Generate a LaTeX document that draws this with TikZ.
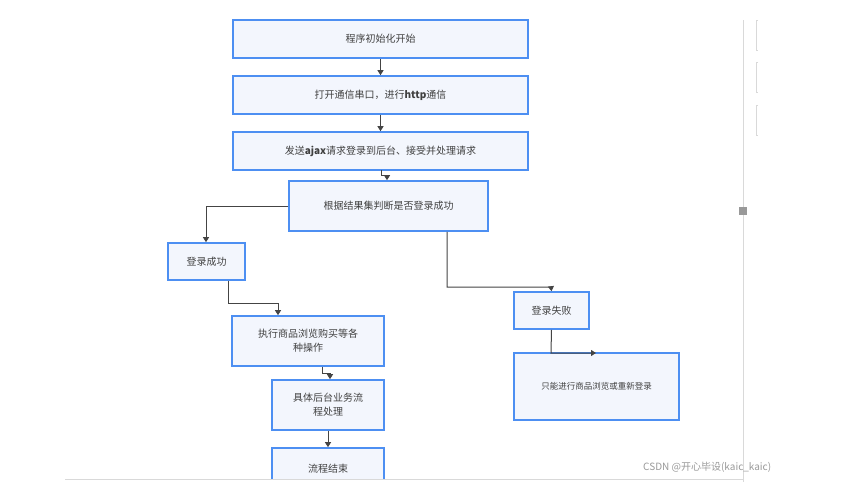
\documentclass[tikz,border=0pt]{standalone}
\usepackage{fontspec}
\setmainfont{Noto Sans CJK SC}
\usetikzlibrary{arrows.meta}
\definecolor{bfill}{HTML}{F3F6FD}
\definecolor{bline}{HTML}{4D8FF2}
\definecolor{aline}{HTML}{444444}
\begin{document}
\begin{tikzpicture}[x=1pt,y=-1pt,
  box/.style={draw=bline,line width=1.6pt,fill=bfill,inner sep=0pt,font=\fontsize{10}{14}\selectfont,text=black!75,align=center},
  conn/.style={draw=aline,line width=1pt,-{Triangle[length=5pt,width=6pt]}}]
\useasboundingbox (0,0) rectangle (847,482);
\fill[white] (0,0) rectangle (847,482);
\newcommand{\bx}[6]{\node[box,minimum width=#3-#2,minimum height=#5-#4] (#1) at ({(#2+#3)/2},{(#4+#5)/2}) {#6};}
\bx{n1}{233}{528}{20}{58}{程序初始化开始}
\bx{n2}{233}{528}{76}{114}{打开通信串口，进行\textbf{http}通信}
\bx{n3}{233}{528}{132}{170}{发送\textbf{ajax}请求登录到后台、接受并处理请求}
\bx{n4}{289}{488}{181}{231}{根据结果集判断是否登录成功}
\bx{n5}{168}{245}{243}{280}{登录成功}
\bx{n6}{232}{384}{316}{366}{执行商品浏览购买等各\\种操作}
\bx{n7}{272}{384}{380}{430}{具体后台业务流\\程处理}
\bx{n8}{272}{384}{448}{490}{流程结束}
\bx{n9}{514}{589}{292}{329}{登录失败}
\node[box,minimum width=165,minimum height=67,font=\fontsize{8.5}{12}\selectfont] (n10) at (596.5,386.5) {只能进行商品浏览或重新登录};
\fill[white] (60,479) rectangle (847,482);
\draw[conn] (n1) -- (n2);
\draw[conn] (n2) -- (n3);
\draw[conn] (381,170) -- (381,175) -- (387,175) -- (n4.north -| 387,0);
\draw[conn] (n4.west) -| (n5.north -| 206,0);
\draw[conn] (n4.south -| 447,0) -- (447,287) -- (551,287) -- (n9.north);
\draw[conn] (n5.south -| 228,0) -- (228,303) -- (278,303) -- (n6.north -| 278,0);
\draw[conn] (n6.south -| 322,0) -- (322,373) -- (330,373) -- (n7.north -| 330,0);
\draw[conn] (n7.south -| 328,0) -- (n8.north -| 328,0);
\draw[conn] (n9.south) -- (551,353) -- (596,353);
\draw[black!15,line width=0.8pt] (65,479) -- (743,479);
\draw[black!15,line width=0.8pt] (743,20) -- (743,482);
\fill[black!40] (739,207) rectangle (747,215);
\foreach \a in {20,62,105}{\draw[black!15,line width=0.6pt] (758,\a) -- (756,\a) -- (756,\a+30) -- (758,\a+30);}
\node[text=black!40,font=\fontsize{10}{12}\selectfont,anchor=west,inner sep=0] (wm) at (643,467) {CSDN @开心毕设(kaic\_kaic)};
\end{tikzpicture}
\end{document}
